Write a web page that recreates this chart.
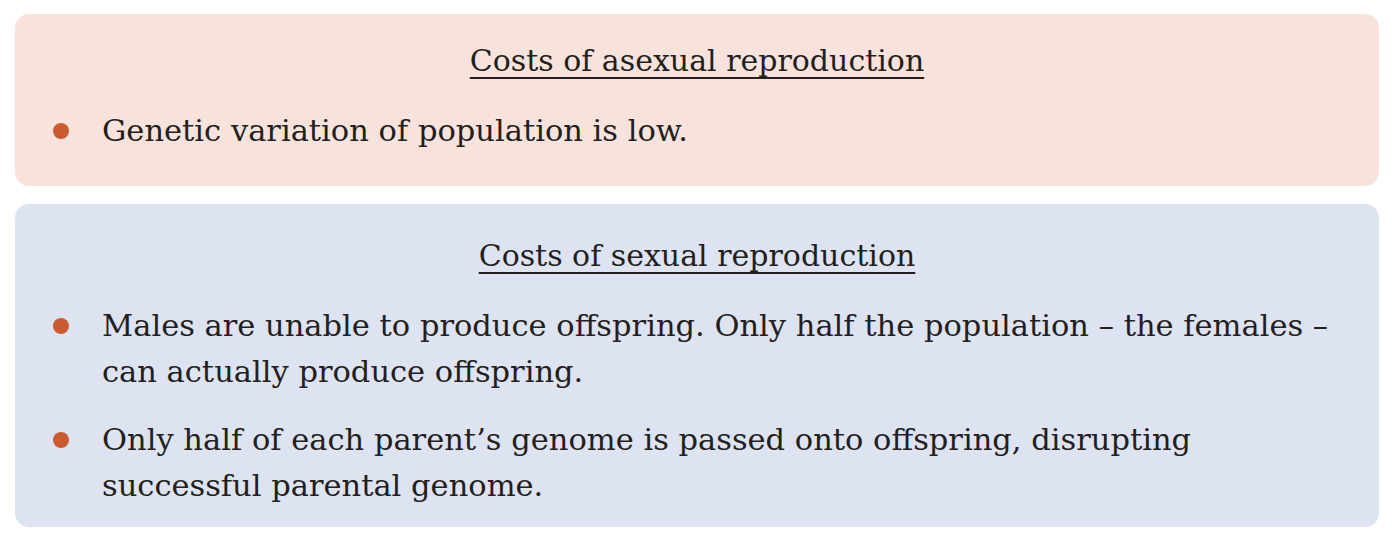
<!DOCTYPE html>
<html><head><meta charset="utf-8">
<script src="https://cdn.jsdelivr.net/npm/chart.js@4"></script>
<style>
body{margin:0;width:1396px;height:542px;background:#fff;font-family:"DejaVu Serif",serif;color:#231f20;}
.box{position:absolute;left:15px;width:1364px;border-radius:14px;}
.t{position:absolute;left:0;width:100%;text-align:center;font-size:30px;text-decoration:underline;text-underline-offset:6px;text-decoration-thickness:2px;}
.b{position:absolute;left:87px;font-size:30.5px;line-height:46px;white-space:nowrap;}
.d{position:absolute;left:38px;width:16px;height:16px;border-radius:50%;background:#cc5a30;}
</style></head><body>
<div id="root"></div>
<script>
const boxTitles=["Costs of asexual reproduction","Costs of sexual reproduction"];
const boxBullets=[[["Genetic variation of population is low."]],
[["Males are unable to produce offspring. Only half the population – the females –","can actually produce offspring."],
 ["Only half of each parent’s genome is passed onto offspring, disrupting","successful parental genome."]]];
const boxColors=["#f7e3dc","#dee3f1"];
const boxGeom=[[14,172,[94]],[204,323,[99,213]]];
const root=document.getElementById('root');
boxTitles.forEach((t,i)=>{
  const [top,h,bt]=boxGeom[i];
  const b=document.createElement('div');b.className='box';
  b.style.top=top+'px';b.style.height=h+'px';b.style.background=boxColors[i];
  const tt=document.createElement('div');tt.className='t';tt.textContent=t;tt.style.top=(i?34:29)+'px';b.appendChild(tt);
  boxBullets[i].forEach((lines,j)=>{
    const d=document.createElement('div');d.className='d';
    d.style.top=(bt[j]+15)+'px';b.appendChild(d);
    const p=document.createElement('div');p.className='b';p.style.top=bt[j]+'px';p.innerHTML=lines.join('<br>');b.appendChild(p);
  });
  root.appendChild(b);
});
</script></body></html>
